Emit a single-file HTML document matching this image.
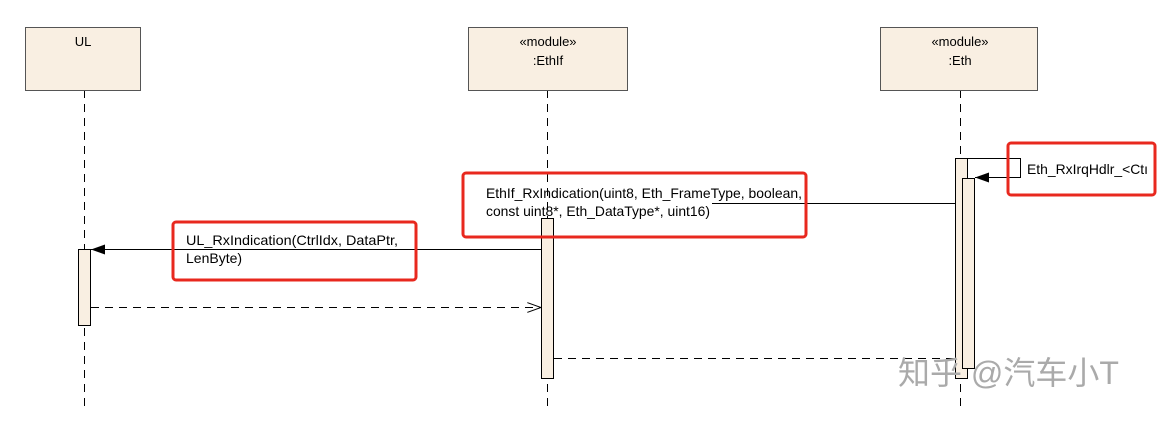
<!DOCTYPE html>
<html><head><meta charset="utf-8"><style>
body{margin:0;width:1165px;height:416px;background:#fff;overflow:hidden;font-family:"Liberation Sans",Arial,sans-serif}
</style></head><body>
<svg width="1165" height="416" xmlns="http://www.w3.org/2000/svg" font-family="Liberation Sans, Arial, sans-serif" font-size="14" fill="#000">
<defs>
<marker id="f" markerWidth="14" markerHeight="10" refX="14" refY="5" orient="auto" markerUnits="userSpaceOnUse"><path d="M0,0 L14,5 L0,10 z" fill="#000"/></marker>
<marker id="o" markerWidth="14" markerHeight="10" refX="14" refY="5" orient="auto" markerUnits="userSpaceOnUse"><path d="M0,0 L14,5 L0,10" fill="none" stroke="#000"/></marker>
</defs>
<g stroke="#000" stroke-dasharray="8,6">
<line x1="84.5" y1="90" x2="84.5" y2="410"/>
<line x1="547.5" y1="90" x2="547.5" y2="410"/>
<line x1="960.5" y1="90" x2="960.5" y2="410"/>
</g>
<g fill="#f9efe2" stroke="#555">
<rect x="25.5" y="27.5" width="115" height="63"/>
<rect x="468.5" y="27.5" width="159" height="63"/>
<rect x="880.5" y="27.5" width="157" height="63"/>
</g>
<text x="83" y="46" text-anchor="middle" font-size="13">UL</text>
<text x="548" y="46" text-anchor="middle" font-size="13">«module»</text>
<text x="548" y="65" text-anchor="middle" font-size="13">:EthIf</text>
<text x="960" y="46" text-anchor="middle" font-size="13">«module»</text>
<text x="960" y="65" text-anchor="middle" font-size="13">:Eth</text>
<g fill="#f9efe2" stroke="#000">
<rect x="955.5" y="158.5" width="12" height="220"/>
<rect x="962.5" y="178.5" width="12" height="190"/>
<rect x="541.5" y="218.5" width="12" height="160"/>
<rect x="78.5" y="249.5" width="12" height="76"/>
</g>
<g stroke="#000" fill="none">
<polyline points="967,158.5 1020.5,158.5 1020.5,177.5 975,177.5" marker-end="url(#f)"/>
<line x1="955" y1="203.5" x2="712" y2="203.5"/>
<line x1="541" y1="249.5" x2="91" y2="249.5" marker-end="url(#f)"/>
<line x1="91" y1="307.5" x2="541" y2="307.5" stroke-dasharray="8,6" marker-end="url(#o)"/>
<line x1="554" y1="358.5" x2="955" y2="358.5" stroke-dasharray="8,6"/>
</g>
<rect x="1022" y="160" width="128" height="20" fill="#fff"/>
<text x="1027" y="174" textLength="121" lengthAdjust="spacingAndGlyphs">Eth_RxIrqHdlr_&lt;Ctı</text>
<text x="486" y="198" textLength="316" lengthAdjust="spacingAndGlyphs">EthIf_RxIndication(uint8, Eth_FrameType, boolean,</text>
<text x="486" y="216" textLength="224" lengthAdjust="spacingAndGlyphs">const uint8*, Eth_DataType*, uint16)</text>
<text x="186" y="245" textLength="212" lengthAdjust="spacingAndGlyphs">UL_RxIndication(CtrlIdx, DataPtr,</text>
<text x="186" y="263">LenByte)</text>
<g fill="none" stroke="#e8281e" stroke-width="3">
<rect x="1008" y="143" width="147" height="52" rx="3"/>
<rect x="463" y="173" width="343" height="64" rx="3"/>
<rect x="173" y="222" width="243" height="58" rx="3"/>
</g>
<text x="898" y="384" font-size="32" fill="#aaa" font-family="Liberation Sans, Noto Sans CJK SC, sans-serif">知乎 @汽车小T</text>
</svg>
</body></html>
